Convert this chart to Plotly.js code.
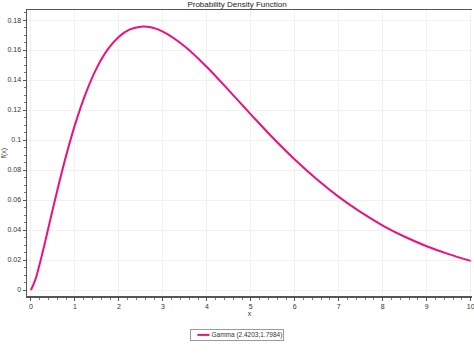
<!DOCTYPE html>
<html>
<head>
<meta charset="utf-8">
<script src="https://cdn.plot.ly/plotly-3.0.1.min.js"></script>
<style>html,body{margin:0;padding:0;background:#fff;}#chart{width:474px;height:353px;}</style>
</head>
<body>
<div id="chart"></div>
<script>
const xValues = [0, 0.1, 0.2, 0.3, 0.5, 0.75, 1, 1.25, 1.5, 1.75, 2, 2.25, 2.5, 2.75, 3, 3.5, 4, 4.5, 5, 5.5, 6, 6.5, 7, 7.5, 8, 8.5, 9, 9.5, 10];
const pdfValues = [0, 0.0069, 0.0175, 0.0294, 0.0543, 0.0841, 0.1101, 0.1315, 0.1483, 0.1606, 0.1689, 0.1738, 0.1756, 0.1750, 0.1723, 0.1624, 0.1487, 0.1331, 0.1171, 0.1015, 0.0870, 0.0738, 0.0621, 0.0519, 0.0430, 0.0355, 0.0292, 0.0239, 0.0194];
const seriesName = 'Gamma (2.4203;1.7984)';
const xTicks = [0,1,2,3,4,5,6,7,8,9,10];
const yTicks = [0,0.02,0.04,0.06,0.08,0.1,0.12,0.14,0.16,0.18];

const lineColor = '#e8137e';
const font = {family: 'Liberation Sans, Arial, sans-serif', size: 7, color: '#333333'};
const trace = {
  x: xValues, y: pdfValues, type: 'scatter', mode: 'lines', name: seriesName,
  line: {color: lineColor, width: 2, shape: 'spline', smoothing: 1}
};
const layout = {
  width: 474, height: 353,
  margin: {l: 27, r: 2, t: 10, b: 57},
  paper_bgcolor: '#fff', plot_bgcolor: '#fff',
  font: font,
  title: {text: 'Probability Density Function', font: {family: font.family, size: 8, color: '#222222'}, x: 0.5, xref: 'container', y: 0.995, yanchor: 'top'},
  showlegend: false,
  xaxis: {
    range: [-0.09, 10.03], tickvals: xTicks, ticktext: xTicks.map(String),
    showline: true, linecolor: '#555', linewidth: 1.5, mirror: true,
    ticks: 'outside', ticklen: 3, tickcolor: '#555', tickfont: {family: font.family, size: 7, color: '#333333'},
    ticklabeloverflow: 'allow',
    minor: {dtick: 0.2, ticks: 'outside', ticklen: 2, tickcolor: '#777', showgrid: false},
    showgrid: true, gridcolor: '#f1f1f1', zeroline: false,
    title: {text: 'x', font: {family: font.family, size: 7, color: '#333333'}, standoff: 0}
  },
  yaxis: {
    range: [-0.004, 0.1867], tickvals: yTicks, ticktext: yTicks.map(String),
    showline: true, linecolor: '#555', linewidth: 1.5,
    ticks: 'outside', ticklen: 3, tickcolor: '#555', tickfont: {family: font.family, size: 7, color: '#333333'},
    minor: {dtick: 0.005, ticks: 'outside', ticklen: 2, tickcolor: '#777', showgrid: false},
    showgrid: true, gridcolor: '#f1f1f1', zeroline: false,
    title: {text: 'f(x)', font: {family: font.family, size: 7, color: '#333333'}, standoff: 4}
  },
  annotations: [{
    xref: 'paper', yref: 'paper', x: 0.472, y: -0.136, xanchor: 'center', yanchor: 'middle',
    text: '\u2003\u2003\u2003' + seriesName, showarrow: false,
    font: {family: font.family, size: 6.5, color: '#333333'},
    bordercolor: '#999', borderwidth: 1, borderpad: 1
  }],
  shapes: [{
    type: 'line', xref: 'paper', yref: 'paper', x0: 0.383, x1: 0.41, y0: -0.136, y1: -0.136,
    line: {color: lineColor, width: 2}, layer: 'above'
  }]
};
Plotly.newPlot('chart', [trace], layout, {displayModeBar: false, staticPlot: true});
</script>
</body>
</html>
